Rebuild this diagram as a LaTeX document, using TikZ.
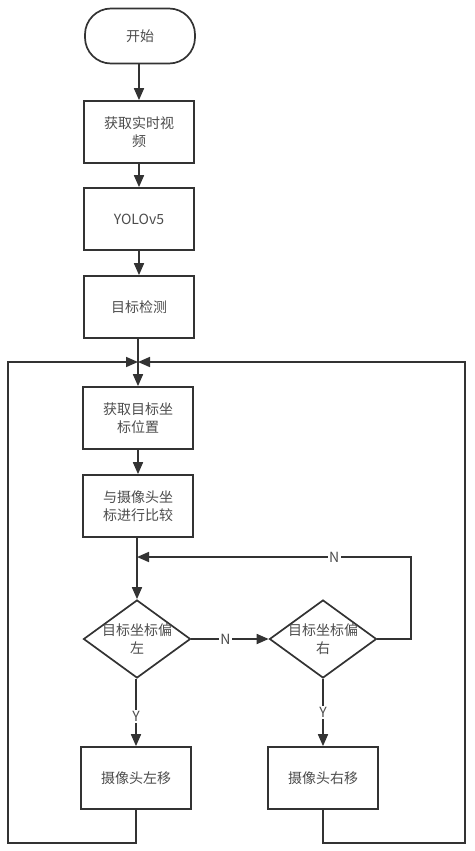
\documentclass[tikz,border=0pt]{standalone}
\usepackage{fontspec}
\setmainfont{Noto Sans CJK SC}
\usetikzlibrary{arrows.meta,shapes.geometric}

\newcommand{\boxw}{110pt}
\newcommand{\boxh}{62pt}
\newcommand{\pn}{\node[draw=black!80, line width=1.7pt, minimum width=\boxw, minimum height=\boxh, align=center, text=black!70, font=\fontsize{14}{18}\selectfont]}
\newcommand{\sn}{\pn[rounded corners=26pt, minimum height=55pt]}
\newcommand{\dn}{\pn[diamond, minimum width=107pt, minimum height=78pt, inner sep=-16pt]}

\begin{document}
\begin{tikzpicture}[x=1pt, y=-1pt,
    flow/.style={draw=black!80, line width=1.7pt, -{Triangle[length=12pt, width=10pt]}},
    tag/.style={fill=white, inner sep=1.5pt, text=black!70, font=\fontsize{14}{18}\selectfont}]
            \useasboundingbox (0,0) rectangle (474,851);

            \sn (start) at (140,36) {开始};
            \pn (video) at (139,132) {获取实时视\\频};
            \pn (yolo) at (139,219) {YOLOv5};
            \pn (detect) at (139,307) {目标检测};
            \pn (getpos) at (138,418) {获取目标坐\\标位置};
            \pn (compare) at (138,506) {与摄像头坐\\标进行比较};
            \dn (isleft) at (137,639) {目标坐标偏\\左};
            \dn (isright) at (323,639) {目标坐标偏\\右};
            \pn (moveleft) at (136,778) {摄像头左移};
            \pn (moveright) at (323,778) {摄像头右移};

            \coordinate (merge) at (138,362);
            \coordinate (back) at (138,557);
            \coordinate (turn) at (411,557);
            \coordinate (leftcorner) at (8,843);
            \coordinate (rightcorner) at (465,843);

            \draw[flow] (start.south -| video) -- (video);
            \draw[flow] (video) -- (yolo);
            \draw[flow] (yolo) -- (detect);
            \draw[flow] (detect.south -| getpos) -- (getpos);
            \draw[flow] (getpos) -- (compare);
            \draw[flow] (compare.south -| isleft) -- (isleft);

            \draw[flow]
                (isleft) -- node[tag, pos=0.44] {N} (isright);
            \draw[flow]
                (isleft.south -| moveleft) -- node[tag, pos=0.56] {Y} (moveleft);
            \draw[flow]
                (isright) -- node[tag, pos=0.5] {Y} (moveright);

            \draw[flow]
                (isright.east) -| (turn) -- node[tag, pos=0.28] {N} (back -| isleft);

            \draw[flow]
                (moveleft) |- (leftcorner) |- (merge);
            \draw[flow]
                (moveright) |- (rightcorner) |- (merge);
        \end{tikzpicture}
\end{document}
